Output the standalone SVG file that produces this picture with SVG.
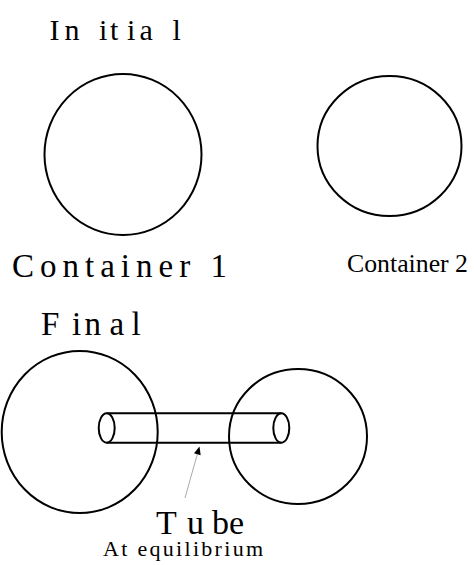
<svg xmlns="http://www.w3.org/2000/svg" width="474" height="565" viewBox="0 0 474 565">
<defs>
<style>
.c{fill:none;stroke:#000;stroke-width:2}
</style>
</defs>
<rect width="474" height="565" fill="#fff"/>
<text font-family="Liberation Serif" font-size="30" x="49.5 64.5 99 110 127 139.5 172.5" y="39.5">Initial</text>
<g id="container1-initial">
<ellipse class="c" cx="123" cy="154.5" rx="78.5" ry="80.5"/>
<text font-family="Liberation Serif" font-size="33" x="12" y="276.5" letter-spacing="6">Container 1</text>
</g>
<g id="container2-initial">
<ellipse class="c" cx="389.5" cy="146" rx="72" ry="70"/>
<text font-family="Liberation Serif" font-size="26" x="347" y="272" textLength="121" lengthAdjust="spacingAndGlyphs">Container 2</text>
</g>
<text font-family="Liberation Serif" font-size="33" x="41 72 84.5 109.5 131.5" y="335">Final</text>
<g id="container1-final">
<ellipse class="c" cx="79.7" cy="432" rx="78" ry="81"/>
</g>
<g id="container2-final">
<ellipse class="c" cx="298" cy="436.5" rx="69" ry="67.5"/>
</g>
<g id="tube">
<ellipse class="c" cx="106.7" cy="428" rx="8" ry="14.7"/>
<ellipse class="c" cx="281.3" cy="428" rx="8" ry="14.7"/>
<line class="c" x1="106.7" y1="413.3" x2="281.3" y2="413.3"/>
<line class="c" x1="106.7" y1="442.7" x2="281.3" y2="442.7"/>
<text font-family="Liberation Serif" font-size="34" x="156 187 212 229" y="534">Tube</text>
<text font-family="Liberation Serif" font-size="22" x="103" y="556" letter-spacing="2.3">At equilibrium</text>
</g>
<g id="connectors">
<line x1="185" y1="498" x2="197.3" y2="454.2" stroke="#aaa" stroke-width="1"/>
<path d="M199.5,446.5 L200.7,455.15 L193.96,453.25 Z" fill="#000"/>
</g>
</svg>
